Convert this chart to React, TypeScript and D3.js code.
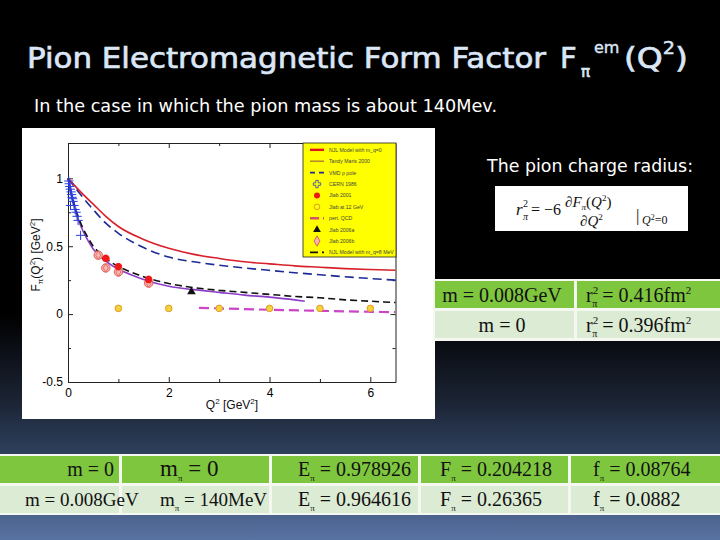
import React, { useRef, useEffect } from "react";
import * as d3 from "d3";

// axis ticks
const xMajor = [0, 2, 4, 6];
const xMinor = [1, 3, 5];
const yMajor = [-0.5, 0, 0.5, 1];
const yMinor = [-0.25, 0.25, 0.75];

// model curves, [Q^2, F]
const njlMassless: [number, number][] = [
  [0, 1], [0.25, 0.9], [0.5, 0.81], [0.75, 0.72], [1, 0.645], [1.5, 0.55],
  [2, 0.485], [2.5, 0.44], [3, 0.41], [3.5, 0.385], [4, 0.37], [4.5, 0.355],
  [5, 0.345], [5.5, 0.335], [6, 0.328], [6.5, 0.323],
];
const blueDashed: [number, number][] = [
  [0, 1], [0.25, 0.88], [0.5, 0.77], [0.75, 0.67], [1, 0.595], [1.5, 0.49],
  [2, 0.42], [2.5, 0.385], [3, 0.36], [3.5, 0.34], [4, 0.322], [4.5, 0.305],
  [5, 0.29], [5.5, 0.275], [6, 0.262], [6.5, 0.25],
];
const purpleSolid: [number, number][] = [
  [0, 1], [0.1, 0.83], [0.2, 0.7], [0.3, 0.61], [0.4, 0.54], [0.5, 0.48],
  [0.6, 0.44], [0.75, 0.39], [1, 0.33], [1.25, 0.29], [1.5, 0.255], [2, 0.205],
  [2.5, 0.18], [3, 0.16], [3.5, 0.14], [4, 0.125], [4.5, 0.105], [4.7, 0.095],
];
const njlMassive: [number, number][] = [
  [0, 1], [0.1, 0.84], [0.2, 0.72], [0.3, 0.63], [0.4, 0.56], [0.5, 0.5],
  [0.6, 0.46], [0.75, 0.41], [1, 0.35], [1.25, 0.31], [1.5, 0.275], [2, 0.225],
  [2.5, 0.195], [3, 0.175], [3.5, 0.16], [4, 0.145], [4.5, 0.13], [5, 0.12],
  [5.5, 0.105], [6, 0.095], [6.5, 0.085],
];
const pertQCD: [number, number][] = [
  [2.6, 0.046], [3, 0.042], [4, 0.032], [5, 0.024], [6, 0.017], [6.5, 0.014],
];

// data points
const cern1986: [number, number][] = [
  [0.015, 0.98], [0.025, 0.96], [0.035, 0.94], [0.045, 0.92], [0.05, 0.8],
  [0.06, 0.9], [0.07, 0.88], [0.08, 0.86], [0.09, 0.85], [0.1, 0.83],
  [0.12, 0.8], [0.14, 0.77], [0.16, 0.75], [0.18, 0.72], [0.2, 0.69],
  [0.25, 0.58],
];
const jlab2001: [number, number][] = [[0.75, 0.41], [1.0, 0.35], [1.6, 0.255]];
const jlab12: [number, number][] = [[1, 0.042], [2, 0.042], [3, 0.042], [4, 0.042], [5, 0.042], [6, 0.042]];
const jlab2006a: [number, number][] = [[2.45, 0.165]];
const jlab2006b: [number, number][] = [[0.6, 0.434], [0.75, 0.34], [1.0, 0.31], [1.6, 0.228]];

const legendLabels = [
  "NJL Model with m_q=0",
  "Tandy Maris 2000",
  "VMD ρ pole",
  "CERN 1986",
  "Jlab 2001",
  "Jlab at 12 GeV",
  "pert. QCD",
  "Jlab 2006a",
  "Jlab 2006b",
  "NJL Model with m_q=8 MeV",
];

// tables
const radiusMass = ["m = 0.008GeV", "m = 0"];
const radiusValue = ["0.416", "0.396"];
const paramMass = ["m = 0", "m = 0.008GeV"];
const paramPionMass = ["0", "140MeV"];
const paramE = ["0.978926", "0.964616"];
const paramF = ["0.204218", "0.26365"];
const paramSmallF = ["0.08764", "0.0882"];

const serif = "'Liberation Serif', 'Times New Roman', serif";
const sans = "'Liberation Sans', Arial, sans-serif";
const slideFont = "'DejaVu Sans', Verdana, sans-serif";

const FormFactorChart = () => {
  const chartRef = useRef<SVGGElement>(null);

  useEffect(() => {
    const svg = d3.select(chartRef.current);
    svg.selectAll("*").remove();

    const x = d3.scaleLinear().domain([0, 6.5]).range([68, 395.5]);
    const y = d3.scaleLinear().domain([-0.5, 1.26]).range([382, 143]);

    svg.append("rect").attr("x", 22).attr("y", 128).attr("width", 413).attr("height", 291).attr("fill", "#fff");

    const styleAxis = (g) => {
      g.attr("font-family", sans).attr("font-size", 12);
      g.selectAll("line").attr("stroke", "#222");
      g.select(".domain").attr("stroke", "#222");
    };

    svg.append("g").attr("transform", "translate(0,382)")
      .call(d3.axisBottom(x).tickValues(xMajor).tickSize(-5).tickSizeOuter(0).tickPadding(6).tickFormat(d3.format("d")))
      .call(styleAxis);
    svg.append("g").attr("transform", "translate(0,382)")
      .call(d3.axisBottom(x).tickValues(xMinor).tickSize(-3).tickFormat(() => ""))
      .call(styleAxis).select(".domain").remove();
    svg.append("g").attr("transform", "translate(0,143)")
      .call(d3.axisTop(x).tickValues(xMajor).tickSize(-5).tickSizeOuter(0).tickFormat(() => ""))
      .call(styleAxis);
    svg.append("g").attr("transform", "translate(0,143)")
      .call(d3.axisTop(x).tickValues(xMinor).tickSize(-3).tickFormat(() => ""))
      .call(styleAxis).select(".domain").remove();

    svg.append("g").attr("transform", "translate(68,0)")
      .call(d3.axisLeft(y).tickValues(yMajor).tickSize(-5).tickSizeOuter(0).tickPadding(5).tickFormat((d) => `${d}`))
      .call(styleAxis);
    svg.append("g").attr("transform", "translate(68,0)")
      .call(d3.axisLeft(y).tickValues(yMinor).tickSize(-3).tickFormat(() => ""))
      .call(styleAxis).select(".domain").remove();
    svg.append("g").attr("transform", "translate(395.5,0)")
      .call(d3.axisRight(y).tickValues(yMajor).tickSize(-5).tickSizeOuter(0).tickFormat(() => ""))
      .call(styleAxis);
    svg.append("g").attr("transform", "translate(395.5,0)")
      .call(d3.axisRight(y).tickValues(yMinor).tickSize(-3).tickFormat(() => ""))
      .call(styleAxis).select(".domain").remove();

    // empty label texts left by the unlabeled axes
    svg.selectAll("text").filter(function () { return !d3.select(this).text(); }).remove();

    const line = d3.line<[number, number]>()
      .x((d) => x(d[0]))
      .y((d) => y(d[1]))
      .curve(d3.curveMonotoneX);

    const plot = svg.append("g");
    plot.append("path").datum(blueDashed).attr("d", line).attr("fill", "none")
      .attr("stroke", "#1c2a96").attr("stroke-width", 1.6).attr("stroke-dasharray", "9,5");
    plot.append("path").datum(njlMassless).attr("d", line).attr("fill", "none")
      .attr("stroke", "#d8202a").attr("stroke-width", 1.6);
    plot.append("path").datum(purpleSolid).attr("d", line).attr("fill", "none")
      .attr("stroke", "#8a3cc8").attr("stroke-width", 1.6);
    plot.append("path").datum(njlMassive).attr("d", line).attr("fill", "none")
      .attr("stroke", "#111").attr("stroke-width", 1.6).attr("stroke-dasharray", "7,4");
    plot.append("path").datum(pertQCD).attr("d", line).attr("fill", "none")
      .attr("stroke", "#cc44c8").attr("stroke-width", 2.2).attr("stroke-dasharray", "10,5");

    const plus = d3.symbol().type(d3.symbolCross).size(30);
    plot.selectAll(".cern").data(cern1986).enter().append("path").attr("class", "cern")
      .attr("d", d3.symbol().type(d3.symbolPlus ?? d3.symbolCross).size(30))
      .attr("transform", (d) => `translate(${x(d[0])},${y(d[1])})`)
      .attr("fill", "none").attr("stroke", "#2a3ee0").attr("stroke-width", 1);

    plot.selectAll(".j06b").data(jlab2006b).enter().append("g").attr("class", "j06b")
      .attr("transform", (d) => `translate(${x(d[0])},${y(d[1])})`)
      .call((g) => {
        g.append("circle").attr("r", 4.2).attr("fill", "#f6b8b0").attr("stroke", "#e0605a").attr("stroke-width", 1);
        g.append("path").attr("d", d3.symbol().type(d3.symbolDiamond).size(22)).attr("fill", "none")
          .attr("stroke", "#e0605a").attr("stroke-width", 0.8);
      });

    plot.selectAll(".j01").data(jlab2001).enter().append("g").attr("class", "j01")
      .attr("transform", (d) => `translate(${x(d[0])},${y(d[1])})`)
      .call((g) => {
        g.append("circle").attr("r", 3.6).attr("fill", "#ee1a1a");
        g.append("path").attr("d", plus).attr("fill", "#ee1a1a");
      });

    plot.selectAll(".j12").data(jlab12).enter().append("circle").attr("class", "j12")
      .attr("cx", (d) => x(d[0])).attr("cy", (d) => y(d[1])).attr("r", 3.3)
      .attr("fill", "#f4d43a").attr("stroke", "#e09a2a").attr("stroke-width", 1);

    plot.selectAll(".j06a").data(jlab2006a).enter().append("path").attr("class", "j06a")
      .attr("d", d3.symbol().type(d3.symbolTriangle).size(32))
      .attr("transform", (d) => `translate(${x(d[0])},${y(d[1])})`)
      .attr("fill", "#111");

    // axis titles
    const yTitle = svg.append("text").attr("transform", "translate(40,255) rotate(-90)")
      .attr("text-anchor", "middle").attr("font-family", sans).attr("font-size", 12).attr("fill", "#111");
    yTitle.append("tspan").text("F");
    yTitle.append("tspan").attr("dy", 3).attr("font-size", 8).text("π");
    yTitle.append("tspan").attr("dy", -3).text("(Q");
    yTitle.append("tspan").attr("dy", -5).attr("font-size", 8).text("2");
    yTitle.append("tspan").attr("dy", 5).text(")  [GeV");
    yTitle.append("tspan").attr("dy", -5).attr("font-size", 8).text("2");
    yTitle.append("tspan").attr("dy", 5).text("]");

    const xTitle = svg.append("text").attr("x", 232).attr("y", 409)
      .attr("text-anchor", "middle").attr("font-family", sans).attr("font-size", 12).attr("fill", "#111");
    xTitle.append("tspan").text("Q");
    xTitle.append("tspan").attr("dy", -5).attr("font-size", 8).text("2");
    xTitle.append("tspan").attr("dy", 5).text("  [GeV");
    xTitle.append("tspan").attr("dy", -5).attr("font-size", 8).text("2");
    xTitle.append("tspan").attr("dy", 5).text("]");

    // legend
    const lx = 303, ly = 143, lw = 93, lh = 114;
    const legend = svg.append("g");
    legend.append("rect").attr("x", lx).attr("y", ly).attr("width", lw).attr("height", lh)
      .attr("fill", "#ffff00").attr("stroke", "#222").attr("stroke-width", 0.8);
    const step = lh / legendLabels.length;
    legendLabels.forEach((label, i) => {
      const cy = ly + step * (i + 0.6);
      const g = legend.append("g").attr("transform", `translate(${lx + 14},${cy})`);
      const seg = (color, width, dash?) => {
        g.append("line").attr("x1", -7).attr("x2", 7).attr("stroke", color)
          .attr("stroke-width", width).attr("stroke-dasharray", dash ?? null);
      };
      if (i === 0) seg("#e0141e", 2.4);
      if (i === 1) seg("#b88a28", 1.6);
      if (i === 2) seg("#1c2a96", 1.6, "5,4");
      if (i === 3) g.append("path").attr("d", plus).attr("fill", "none").attr("stroke", "#2a3ee0").attr("stroke-width", 0.8);
      if (i === 4) g.append("circle").attr("r", 3).attr("fill", "#ee1a1a");
      if (i === 5) g.append("circle").attr("r", 2.8).attr("fill", "#ffff00").attr("stroke", "#e09a2a");
      if (i === 6) seg("#d8506a", 2.4, "9,4");
      if (i === 7) g.append("path").attr("d", d3.symbol().type(d3.symbolTriangle).size(26)).attr("fill", "#111");
      if (i === 8) g.append("path").attr("d", d3.symbol().type(d3.symbolDiamond).size(30)).attr("fill", "#f6b8b0").attr("stroke", "#e0605a");
      if (i === 9) seg("#111", 1.8, "8,4");
      legend.append("text").attr("x", lx + 26).attr("y", cy + 2).attr("font-family", sans)
        .attr("font-size", 5.2).attr("fill", "#444").text(label);
    });
  }, []);

  return <g ref={chartRef} />;
};

// letter with a subscript pi, followed by the rest of the text
const PiSub = ({ letter, rest, drop = 5, size = 9 }) => (
  <>
    <tspan>{letter}</tspan>
    <tspan dy={drop} fontSize={size}>π</tspan>
    <tspan dy={-drop}>{rest}</tspan>
  </>
);

const App = () => {
  return (
    <svg width={720} height={540} style={{ position: "absolute", left: 0, top: 0 }}>
      <defs>
        <linearGradient id="bg" x1="0" y1="0" x2="0" y2="1">
          <stop offset="0" stopColor="#000" />
          <stop offset="0.58" stopColor="#000" />
          <stop offset="0.74" stopColor="#1b2333" />
          <stop offset="0.82" stopColor="#2a3a55" />
          <stop offset="1" stopColor="#5872a2" />
        </linearGradient>
      </defs>
      <rect width={720} height={540} fill="url(#bg)" />

      {/* title */}
      <g fontFamily={slideFont} fill="#dbe7f6" stroke="#dbe7f6" strokeWidth={0.7}>
        <text x={27} y={68} fontSize={29} textLength={519} lengthAdjust="spacingAndGlyphs">
          Pion Electromagnetic Form Factor
        </text>
        <text x={560} y={68} fontSize={29}>F</text>
        <text x={581} y={77} fontSize={15}>π</text>
        <text x={594} y={53} fontSize={16} strokeWidth={0.4}>em</text>
        <text x={624} y={68} fontSize={29} textLength={64} lengthAdjust="spacingAndGlyphs">
          <tspan>(Q</tspan>
          <tspan dy={-14} fontSize={17} strokeWidth={0.4}>2</tspan>
          <tspan dy={14}>)</tspan>
        </text>
      </g>
      <text x={34} y={112} fontFamily={slideFont} fontSize={18} fill="#fff" textLength={463} lengthAdjust="spacingAndGlyphs">
        In the case in which the pion mass is about 140Mev.
      </text>

      <FormFactorChart />

      {/* charge radius */}
      <text x={487} y={172} fontFamily={slideFont} fontSize={17} fill="#fff" textLength={206} lengthAdjust="spacingAndGlyphs">
        The pion charge radius:
      </text>
      <rect x={495} y={186} width={193} height={45} fill="#fff" />
      <g fontFamily={serif} fill="#111">
        <text x={516} y={215} fontSize={17} fontStyle="italic">r</text>
        <text x={523} y={207} fontSize={10}>2</text>
        <text x={523} y={220} fontSize={10} fontStyle="italic">π</text>
        <text x={531} y={215} fontSize={16}>= −6</text>
        <text x={565} y={207} fontSize={15}>
          <tspan>∂</tspan>
          <tspan fontStyle="italic">F</tspan>
          <tspan dy={3} fontSize={9} fontStyle="italic">π</tspan>
          <tspan dy={-3}>(</tspan>
          <tspan fontStyle="italic">Q</tspan>
          <tspan dy={-6} fontSize={9}>2</tspan>
          <tspan dy={6}>)</tspan>
        </text>
        <text x={580} y={226} fontSize={15}>
          <tspan>∂</tspan>
          <tspan fontStyle="italic">Q</tspan>
          <tspan dy={-6} fontSize={9}>2</tspan>
        </text>
        <text x={636} y={221} fontSize={17}>|</text>
        <text x={642} y={224} fontSize={12}>
          <tspan fontStyle="italic">Q</tspan>
          <tspan dy={-4} fontSize={8}>2</tspan>
          <tspan dy={4}>=0</tspan>
        </text>
      </g>

      {/* radius table */}
      <rect x={433} y={279} width={287} height={62} fill="#f4f8f0" />
      {radiusMass.map((m, i) => {
        const top = 281 + i * 30;
        const fill = i === 0 ? "#7fc63f" : "#dcebd4";
        return (
          <g key={m} fontFamily={serif} fill="#111" fontSize={20}>
            <rect x={435} y={top} width={139} height={27} fill={fill} />
            <rect x={577} y={top} width={143} height={27} fill={fill} />
            <text x={502} y={top + 21} textAnchor="middle">{m}</text>
            <text x={586} y={top + 21}>
              <tspan>r</tspan>
              <tspan dy={-8} fontSize={11}>2</tspan>
              <tspan dx={-6} dy={13} fontSize={10}>π</tspan>
              <tspan dy={-5}>{` = ${radiusValue[i]}fm`}</tspan>
              <tspan dy={-8} fontSize={11}>2</tspan>
            </text>
          </g>
        );
      })}

      {/* parameter table */}
      <rect x={0} y={454} width={720} height={61} fill="#f4f8f0" />
      {paramMass.map((m, i) => {
        const top = 456 + i * 30;
        const fill = i === 0 ? "#7fc63f" : "#dcebd4";
        const base = top + 20;
        const cols = [[0, 119], [122, 147], [272, 146], [421, 147], [571, 149]];
        return (
          <g key={m} fontFamily={serif} fill="#111" fontSize={20}>
            {cols.map(([cx, w]) => (
              <rect key={cx} x={cx} y={top} width={w} height={27} fill={fill} />
            ))}
            {i === 0 ? (
              <text x={114} y={base} textAnchor="end">{m}</text>
            ) : (
              <text x={25} y={base} fontSize={19}>{m}</text>
            )}
            <text x={160} y={base} fontSize={i === 0 ? 23 : 19}>
              <PiSub letter="m" rest={i === 0 ? "  =  " + paramPionMass[i] : " = " + paramPionMass[i]} />
            </text>
            <text x={298} y={base}>
              <PiSub letter="E" rest={` = ${paramE[i]}`} />
            </text>
            <text x={440} y={base}>
              <PiSub letter="F" rest={` = ${paramF[i]}`} />
            </text>
            <text x={593} y={base}>
              <PiSub letter="f" rest={` = ${paramSmallF[i]}`} />
            </text>
          </g>
        );
      })}
    </svg>
  );
};

export default App;
